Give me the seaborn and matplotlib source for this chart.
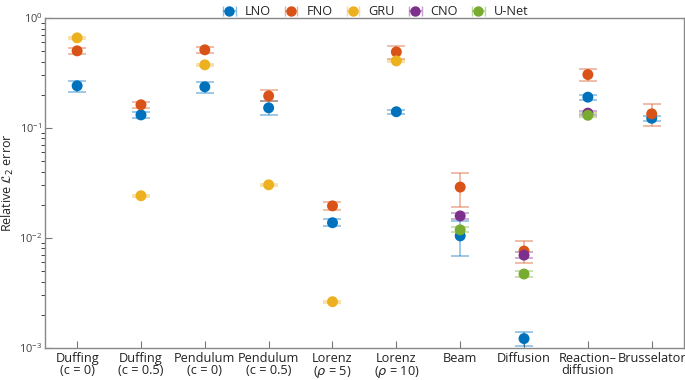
import numpy as np
import matplotlib
matplotlib.use("Agg")
import matplotlib.pyplot as plt
import seaborn as sns

nan = np.nan

tasks = ["Duffing\n(c = 0)", "Duffing\n(c = 0.5)", "Pendulum\n(c = 0)", "Pendulum\n(c = 0.5)",
         "Lorenz\n($\\rho$ = 5)", "Lorenz\n($\\rho$ = 10)", "Beam", "Diffusion",
         "Reaction–\ndiffusion", "Brusselator"]
models = ["LNO", "FNO", "GRU", "CNO", "U-Net"]

# mean relative L2 error per task (nan = not evaluated)
lno_mean = [0.241, 0.131, 0.236, 0.152, 0.0137, 0.140, 0.0104, 0.00121, 0.190, 0.122]
fno_mean = [0.501, 0.162, 0.512, 0.195, 0.0195, 0.490, 0.0289, 0.00757, 0.305, 0.134]
gru_mean = [0.658, 0.0241, 0.374, 0.0303, 0.00262, 0.406, nan, nan, nan, nan]
cno_mean = [nan, nan, nan, nan, nan, nan, 0.0158, 0.00695, 0.136, nan]
unet_mean = [nan, nan, nan, nan, nan, nan, 0.0118, 0.00468, 0.130, nan]

# lower / upper ends of the error bars
lno_lo = [0.212, 0.124, 0.208, 0.131, 0.0127, 0.134, 0.00686, 0.00103, 0.180, 0.116]
lno_hi = [0.268, 0.138, 0.262, 0.176, 0.0147, 0.146, 0.0141, 0.00139, 0.200, 0.128]
fno_lo = [0.470, 0.152, 0.482, 0.176, 0.0180, 0.425, 0.0190, 0.0059, 0.268, 0.103]
fno_hi = [0.535, 0.172, 0.545, 0.222, 0.0211, 0.556, 0.0392, 0.0093, 0.346, 0.164]
gru_lo = [0.640, 0.0236, 0.364, 0.0296, 0.00256, 0.395, nan, nan, nan, nan]
gru_hi = [0.676, 0.0246, 0.384, 0.0310, 0.00268, 0.417, nan, nan, nan, nan]
cno_lo = [nan, nan, nan, nan, nan, nan, 0.0148, 0.0065, 0.130, nan]
cno_hi = [nan, nan, nan, nan, nan, nan, 0.0168, 0.0074, 0.142, nan]
unet_lo = [nan, nan, nan, nan, nan, nan, 0.0112, 0.00440, 0.125, nan]
unet_hi = [nan, nan, nan, nan, nan, nan, 0.0124, 0.00496, 0.135, nan]

colors = ["#0072BD", "#D95319", "#EDB120", "#7E2F8E", "#77AC30"]

sns.set_style("ticks")
plt.rcParams['font.family'] = ['Open Sans', 'DejaVu Sans']
plt.rcParams['mathtext.fontset'] = 'dejavusans'

fig, ax = plt.subplots(figsize=(6.85, 3.8), dpi=100)
fig.subplots_adjust(left=0.066, right=0.998, top=0.953, bottom=0.085)

x = np.arange(len(tasks))
series = [(lno_mean, lno_lo, lno_hi), (fno_mean, fno_lo, fno_hi), (gru_mean, gru_lo, gru_hi),
          (cno_mean, cno_lo, cno_hi), (unet_mean, unet_lo, unet_hi)]

handles = []
for name, col, (m, lo, hi) in zip(models, colors, series):
    m = np.array(m); lo = np.array(lo); hi = np.array(hi)
    ok = ~np.isnan(m)
    yerr = np.vstack([m[ok] - lo[ok], hi[ok] - m[ok]])
    ax.errorbar(x[ok], m[ok], yerr=yerr, fmt="none", ecolor=col, alpha=0.45,
                elinewidth=1.2, capsize=6.5, capthick=1.2, zorder=2)
    sns.scatterplot(x=x[ok], y=m[ok], color=col, s=62, edgecolor="none", ax=ax, zorder=3)
    h = ax.errorbar([nan], [nan], xerr=[1], fmt="o", color=col, ms=7.5, mec="none",
                    ecolor=matplotlib.colors.to_rgba(col, 0.45), elinewidth=1.2,
                    capsize=3.5, label=name)
    handles.append(h)

ax.set_yscale("log")
ax.set_ylim(1e-3, 1)
ax.set_xlim(-0.5, 9.5)
ax.set_xticks(x)
ax.set_xticklabels(tasks, fontsize=9.2, color="#222222", linespacing=0.95)
ax.set_ylabel("Relative $\\mathcal{L}_2$ error", fontsize=9, color="#222222", labelpad=2)
ax.tick_params(axis="both", direction="in", color="#777777")
ax.tick_params(axis="x", length=5, pad=3)
ax.tick_params(axis="y", which="major", length=5, labelsize=8, labelcolor="#444444", pad=2)
ax.tick_params(axis="y", which="minor", length=3)
for s in ax.spines.values():
    s.set_color("#888888")
    s.set_linewidth(1.0)

ax.legend(handles=handles, loc="lower center", bbox_to_anchor=(0.515, 0.995), ncol=5,
          frameon=False, fontsize=9.2, handlelength=1.5, handletextpad=0.45,
          columnspacing=0.85, borderaxespad=0, borderpad=0.1)

fig.savefig("out.png", dpi=100)
